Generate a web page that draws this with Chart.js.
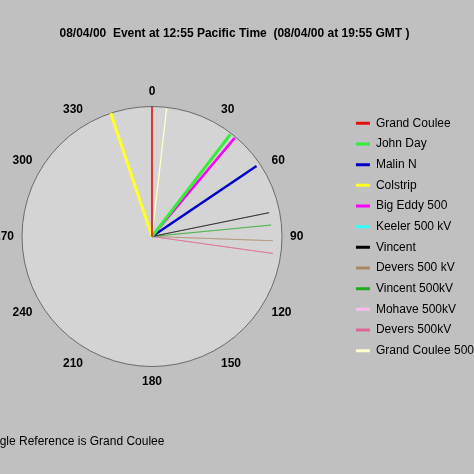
<!DOCTYPE html>
<html>
<head>
<meta charset="utf-8">
<script src="https://cdn.jsdelivr.net/npm/chart.js@4.4.0/dist/chart.umd.min.js"></script>
<style>
  html, body { margin: 0; padding: 0; background: #c0c0c0; overflow: hidden; }
  #wrap { position: relative; width: 474px; height: 474px; overflow: hidden; }
  #phasorChart { position: absolute; left: -15px; top: 0; }
</style>
</head>
<body>
<div id="wrap"><canvas id="phasorChart" width="514" height="474"></canvas></div>
<script>
// Stations, their phase angle (degrees, clockwise from top) and relative magnitude
var stations = ["Grand Coulee", "John Day", "Malin N", "Colstrip", "Big Eddy 500", "Keeler 500 kV",
    "Vincent", "Devers 500 kV", "Vincent 500kV", "Mohave 500kV", "Devers 500kV", "Grand Coulee 500"];
var angles = [0, 37.5, 56, 341.5, 40, 0, 78.5, 92, 84.5, 0, 98, 6.5];
var magnitudes = [1.0, 0.99, 0.97, 1.0, 0.99, 0, 0.92, 0.93, 0.92, 0, 0.94, 0.99];

// Angle labels shown round the circle
var angleTicks = [0, 30, 60, 90, 120, 150, 180, 210, 240, 270, 300, 330];

// Line colours and widths per station
var colors = ["#e01010", "#33ee33", "#0000cc", "#ffff22", "#ff00ff", "#33ffff",
    "#000000", "#aa8866", "#22aa22", "#ffbbee", "#dd6699", "#ffffcc"];
var widths = [1.6, 3, 2.5, 3, 2.5, 1, 0.5, 0.5, 0.5, 1, 0.6, 1.3];

var font = "'Liberation Sans', Arial, sans-serif";

// the radar needs one category per angle step
var step = 0.5;
var labels = [];
for (var a = 0; a < 360; a += step) labels.push(a);

var datasets = stations.map(function (name, i) {
    var values = labels.map(function () { return 0; });
    values[Math.round(angles[i] / step) % labels.length] = magnitudes[i];
    return {
        label: name,
        data: values,
        borderColor: colors[i],
        backgroundColor: colors[i],
        borderWidth: widths[i],
        fill: false,
        pointRadius: 0,
        pointHitRadius: 0,
        tension: 0
    };
});

var ctx = document.getElementById("phasorChart").getContext("2d");

var phasorChart = new Chart(ctx, {
    type: 'radar',
    data: { labels: labels, datasets: datasets },
    options: {
        responsive: false,
        animation: false,
        events: [],
        layout: { padding: { left: 0, right: 15, top: 0, bottom: 0 } },
        scales: {
            r: {
                min: 0,
                max: 1,
                startAngle: 0,
                backgroundColor: '#d4d4d4',
                ticks: { display: false, stepSize: 1 },
                grid: { circular: true, color: '#6a6a6a', lineWidth: 1 },
                angleLines: { display: false },
                pointLabels: {
                    color: '#000',
                    padding: 8,
                    font: { family: font, size: 12, weight: 'bold' },
                    callback: function (label) {
                        return angleTicks.indexOf(label) >= 0 ? String(label) : '';
                    }
                },
                // put the dial where it sits in the original plot
                afterSetDimensions: function (scale) {
                    scale.xCenter = 167;
                    scale.yCenter = 236.5;
                    scale.drawingArea = 130;
                }
            }
        },
        plugins: {
            tooltip: { enabled: false },
            title: {
                display: true,
                text: '08/04/00  Event at 12:55 Pacific Time  (08/04/00 at 19:55 GMT )',
                color: '#000',
                font: { family: font, size: 12, weight: 'bold' },
                padding: { top: 26, bottom: 40 }
            },
            subtitle: {
                display: true,
                position: 'bottom',
                align: 'start',
                text: 'Angle Reference is Grand Coulee',
                color: '#000',
                font: { family: font, size: 12, weight: 'normal' },
                padding: { top: 41, bottom: 25 }
            },
            legend: {
                position: 'right',
                labels: {
                    boxWidth: 14,
                    boxHeight: 3,
                    padding: 8.67,
                    color: '#000',
                    font: { family: font, size: 12 },
                    generateLabels: function (chart) {
                        return Chart.defaults.plugins.legend.labels.generateLabels(chart).map(function (item) {
                            item.fillStyle = colors[item.datasetIndex];
                            item.lineWidth = 0;
                            return item;
                        });
                    }
                }
            }
        }
    }
});
</script>
</body>
</html>
